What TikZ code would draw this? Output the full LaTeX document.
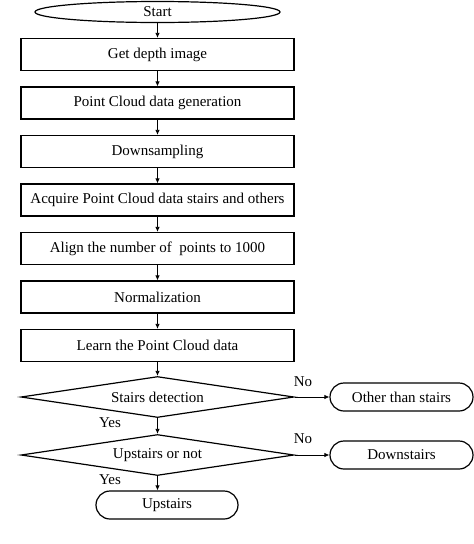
\documentclass[tikz,border=0pt]{standalone}
\usepackage{fontspec}
\setmainfont{Liberation Serif}
\usetikzlibrary{shapes.geometric,shapes.misc,arrows.meta}

\tikzset{
  stepbox/.style={draw, line width=1.2pt, minimum width=273pt, minimum height=32pt, inner sep=0pt},
  terminal/.style={draw, line width=1.2pt, rounded rectangle, minimum width=143pt, minimum height=28pt, inner sep=0pt},
  decision/.style={draw, line width=1.2pt, diamond, aspect=6.66, minimum width=273pt, minimum height=41pt, inner sep=0pt},
  flow/.style={line width=0.8pt, -{Latex[length=5pt,width=4.5pt]}},
  answer/.style={inner sep=0pt}
}

\begin{document}
\begin{tikzpicture}[x=1pt, y=-1pt, font=\fontsize{15}{18}\selectfont]
                \useasboundingbox (0,0) rectangle (474,544);

                \node [draw, line width=1.2pt, ellipse, minimum width=245pt, minimum height=21pt, inner sep=0pt] (start) at (157.5,12) {Start};
                \node [stepbox] (depth) at (157.5,54.5) {Get depth image};
                \node [stepbox] (gen) at (157.5,103) {Point Cloud data generation};
                \node [stepbox] (down) at (157.5,151.5) {Downsampling};
                \node [stepbox] (acq) at (157.5,200) {Acquire Point Cloud data stairs and others};
                \node [stepbox] (align) at (157.5,248.5) {Align the number of~ points to 1000};
                \node [stepbox] (norm) at (157.5,297) {Normalization};
                \node [stepbox] (learn) at (157.5,345.5) {Learn the Point Cloud data};

                \node [decision] (detect) at (157.5,397) {Stairs detection};
                \node [decision] (updown) at (157.5,455) {Upstairs or not};

                \node [terminal] (other) at (401.5,397) {Other than stairs};
                \node [terminal] (downst) at (401.5,455) {Downstairs};
                \node [terminal, minimum width=142pt] (upst) at (167,505) {Upstairs};

                \draw [flow] (start) -- (depth);
                \draw [flow] (depth) -- (gen);
                \draw [flow] (gen) -- (down);
                \draw [flow] (down) -- (acq);
                \draw [flow] (acq) -- (align);
                \draw [flow] (align) -- (norm);
                \draw [flow] (norm) -- (learn);
                \draw [flow] (learn) -- (detect);
                \draw [flow] (detect) -- (updown);
                \draw [flow] (updown.south) -- (updown.south |- upst.north);
                \draw [flow] (detect.east) -- (other.west);
                \draw [flow] (updown.east) -- (downst.west);

                \node [answer] (no1) at (303,382) {No};
                \node [answer] (no2) at (303,439) {No};
                \node [answer] (yes1) at (110,423) {Yes};
                \node [answer] (yes2) at (110,480) {Yes};
            \end{tikzpicture}
\end{document}
